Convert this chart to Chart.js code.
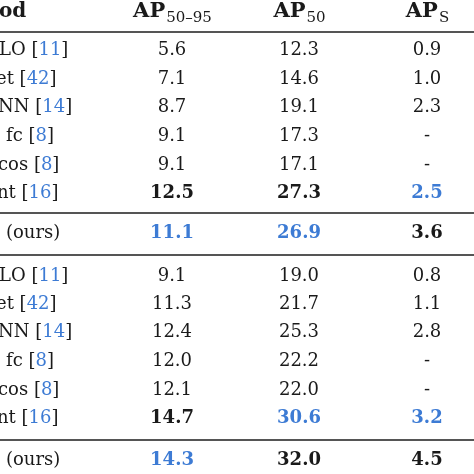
<!DOCTYPE html>
<html><head><meta charset="utf-8">
<script src="https://cdn.jsdelivr.net/npm/chart.js@4"></script>
<style>html,body{margin:0;padding:0;background:#fff}#w{width:474px;height:474px}</style>
</head><body><div id="w"><canvas id="c"></canvas></div>
<script>
const methods = ["LO [11]","et [42]","NN [14]","fc [8]","cos [8]","nt [16]","(ours)","LO [11]","et [42]","NN [14]","fc [8]","cos [8]","nt [16]","(ours)"];
const ap5095 = ["5.6","7.1","8.7","9.1","9.1","12.5","11.1","9.1","11.3","12.4","12.0","12.1","14.7","14.3"];
const ap50   = ["12.3","14.6","19.1","17.3","17.1","27.3","26.9","19.0","21.7","25.3","22.2","22.0","30.6","32.0"];
const aps    = ["0.9","1.0","2.3","-","-","2.5","3.6","0.8","1.1","2.8","-","-","3.2","4.5"];
// style codes: 0 normal, 1 bold, 2 blue bold
const st5095 = [0,0,0,0,0,1,2,0,0,0,0,0,1,2];
const st50   = [0,0,0,0,0,1,2,0,0,0,0,0,2,1];
const stS    = [0,0,0,0,0,2,1,0,0,0,0,0,2,1];
const headers = [["AP","50–95"],["AP","50"],["AP","S"]];

// layout
const rowY = [50,79,107,136,165,193,233,276,304,332,361,390,418,460];
const headY = 12, ruleY = [32,213,255,440];
const colX = [172,299,427];
const methodX = [-1,-4,-2,6,-2,-3,6,-1,-4,-2,6,-2,-3,6];
const BLUE = "#3d7bd4", INK = "#1a1a1a", FONT = "'DejaVu Serif', serif";

const tablePlugin = {
  id:'table',
  afterDatasetsDraw(chart){
    const ctx = chart.ctx, xs = chart.scales.x, ys = chart.scales.y;
    ctx.save();
    ctx.strokeStyle = "#555"; ctx.lineWidth = 2;
    ruleY.forEach(y=>{ctx.beginPath();ctx.moveTo(xs.getPixelForValue(0),ys.getPixelForValue(y));ctx.lineTo(xs.getPixelForValue(474),ys.getPixelForValue(y));ctx.stroke();});
    ctx.textBaseline = "middle";
    ctx.fillStyle = INK;
    ctx.font = "bold 20px "+FONT; ctx.textAlign="left";
    ctx.fillText("od", xs.getPixelForValue(-1), ys.getPixelForValue(headY));
    headers.forEach((h,i)=>{
      ctx.font = "bold 21px "+FONT; const w1 = ctx.measureText(h[0]).width;
      ctx.font = "15px "+FONT; const w2 = ctx.measureText(h[1]).width;
      const x0 = xs.getPixelForValue(colX[i]) - (w1+w2)/2, y = ys.getPixelForValue(headY);
      ctx.font = "bold 21px "+FONT; ctx.fillText(h[0], x0, y);
      ctx.font = "15px "+FONT; ctx.fillText(h[1], x0+w1+1, y+6);
    });
    ctx.font = "18px "+FONT;
    methods.forEach((m,i)=>{
      const y = ys.getPixelForValue(rowY[i]); let x = xs.getPixelForValue(methodX[i]);
      const k = m.indexOf("[");
      if(k<0){ctx.fillStyle=INK;ctx.fillText(m,x,y);return;}
      const parts=[[m.slice(0,k+1),INK],[m.slice(k+1,m.length-1),BLUE],["]",INK]];
      parts.forEach(p=>{ctx.fillStyle=p[1];ctx.fillText(p[0],x,y);x+=ctx.measureText(p[0]).width;});
    });
    ctx.textAlign="center";
    [[ap5095,st5095],[ap50,st50],[aps,stS]].forEach((c,j)=>{
      c[0].forEach((v,i)=>{
        const s=c[1][i];
        ctx.font=(s?"bold ":"")+"18px "+FONT;
        ctx.fillStyle = s===2?BLUE:INK;
        ctx.fillText(v, xs.getPixelForValue(colX[j]), ys.getPixelForValue(rowY[i]));
      });
    });
    ctx.restore();
  }
};

const pts=[];
rowY.forEach(y=>colX.forEach(x=>pts.push({x,y})));
new Chart(document.getElementById('c'),{
  type:'scatter',
  data:{datasets:[{data:pts,pointRadius:0,pointHoverRadius:0}]},
  options:{responsive:true,maintainAspectRatio:false,animation:false,
    layout:{padding:0},
    plugins:{legend:{display:false},tooltip:{enabled:false}},
    scales:{x:{type:'linear',min:0,max:474,display:false},y:{type:'linear',min:0,max:474,reverse:true,display:false}}},
  plugins:[tablePlugin]
});
</script></body></html>
